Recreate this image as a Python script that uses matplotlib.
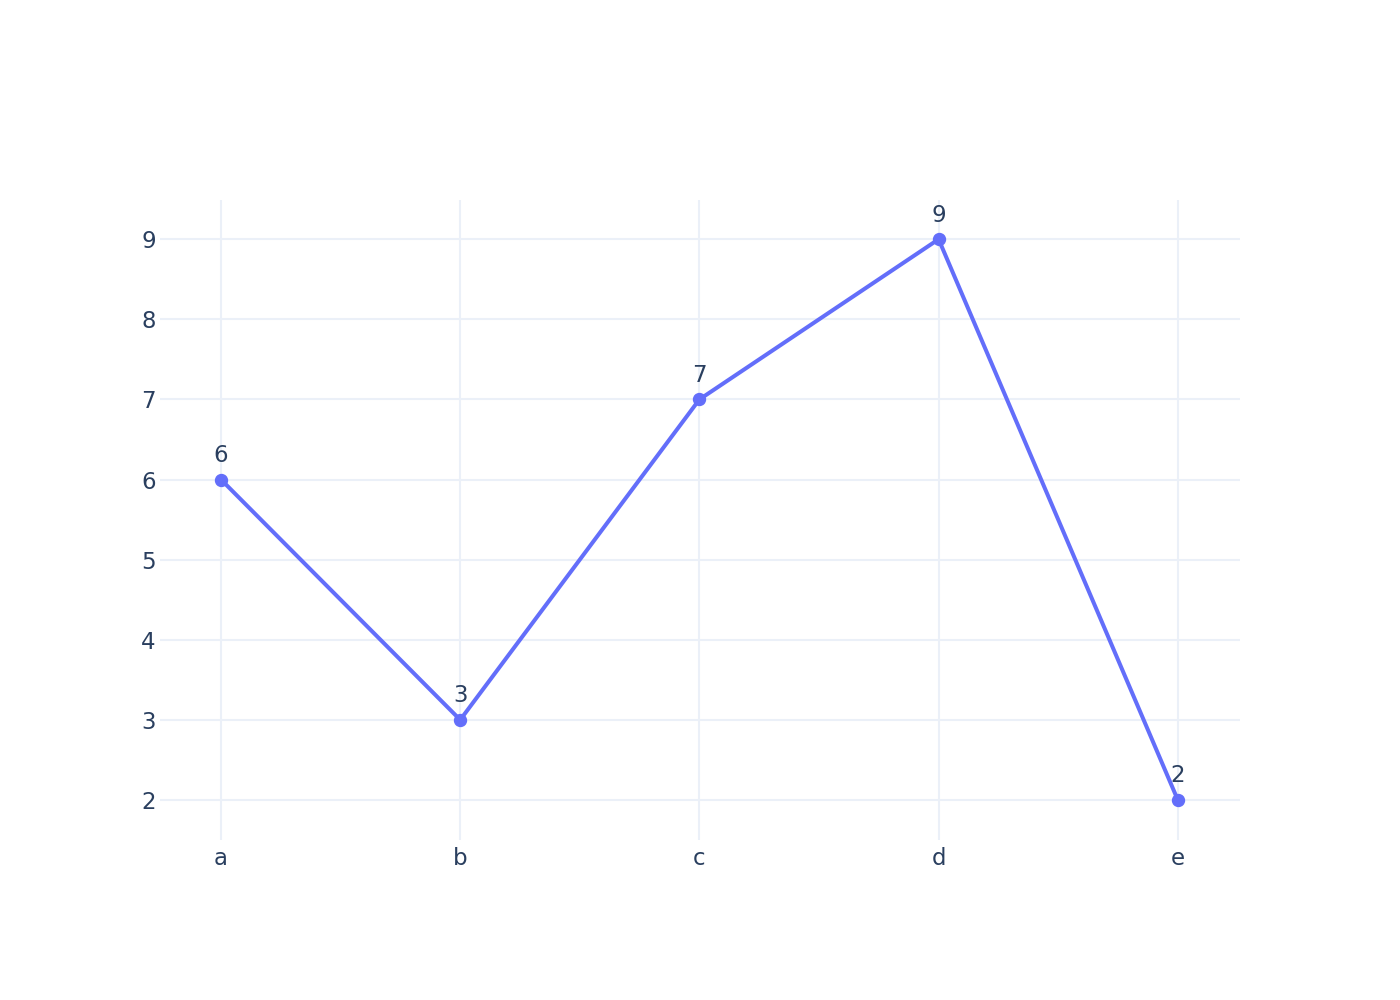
import matplotlib
matplotlib.use("Agg")
import matplotlib.pyplot as plt

plt.rcParams['font.family'] = ['DejaVu Sans']

categories = ["a", "b", "c", "d", "e"]
values = [6, 3, 7, 9, 2]

line_color = "#636efa"
text_color = "#2a3f5f"
grid_color = "#ebf0f8"

fig = plt.figure(figsize=(14, 10), dpi=100)
ax = fig.add_axes([160 / 1400, 160 / 1000, 1080 / 1400, 640 / 1000])

x = list(range(len(categories)))
ax.plot(x, values, color=line_color, linewidth=2.9, marker="o",
        markersize=8.6, zorder=3, clip_on=False)
for xi, v in zip(x, values):
    ax.annotate(str(v), (xi, v), xytext=(0, 9), textcoords="offset points",
                ha="center", va="bottom", fontsize=16.5, color=text_color)

ax.set_xlim(-0.255, 4.26)
ax.set_ylim(1.5, 9.49)
ax.set_xticks(x)
ax.set_xticklabels(categories)
ax.set_yticks(range(2, 10))

ax.grid(True, color=grid_color, linewidth=1.5)
ax.set_axisbelow(True)
for s in ax.spines.values():
    s.set_visible(False)
ax.tick_params(length=0, labelsize=16.5, labelcolor=text_color)
ax.tick_params(axis="y", pad=3)
ax.tick_params(axis="x", pad=5)

fig.savefig("out.png", dpi=100, facecolor="white")
